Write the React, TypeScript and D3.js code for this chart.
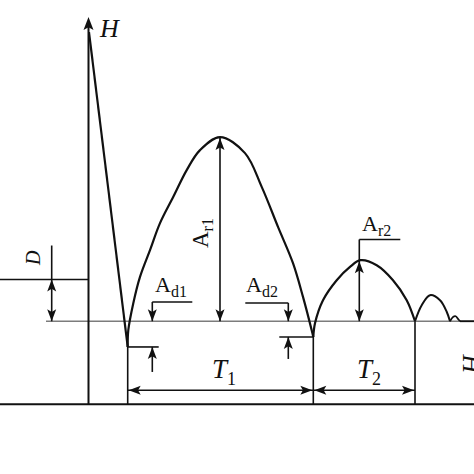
import * as d3 from 'd3';

// Wave trace. t = time units, h = height units
// (0 = the grey reference level).
type Pt = { t: number; h: number };

const spike: Pt[] = [
  { t: 0.05, h: 28.9 },
  { t: 3.92, h: -2.57 },
];

const arch1: Pt[] = [
  { t: 3.92, h: -2.57 },
  { t: 3.98, h: -0.9 },
  { t: 4.48, h: 1.8 },
  { t: 5.15, h: 4.43 },
  { t: 6.15, h: 7.1 },
  { t: 7.15, h: 9.8 },
  { t: 8.48, h: 12.43 },
  { t: 9.82, h: 15.1 },
  { t: 11.15, h: 17.1 },
  { t: 13.15, h: 18.4 },
  { t: 15.65, h: 16.8 },
  { t: 17.32, h: 13.43 },
  { t: 18.95, h: 9.43 },
  { t: 20.45, h: 5.8 },
  { t: 21.45, h: 2.43 },
  { t: 22.32, h: -0.9 },
  { t: 22.48, h: -1.57 },
];

const arch2: Pt[] = [
  { t: 22.48, h: -1.57 },
  { t: 22.65, h: -0.2 },
  { t: 23.45, h: 2.1 },
  { t: 24.82, h: 4.1 },
  { t: 26.15, h: 5.43 },
  { t: 27.2, h: 6.1 },
  { t: 28.82, h: 5.6 },
  { t: 30.45, h: 4.1 },
  { t: 31.82, h: 2.1 },
  { t: 32.65, h: 0 },
];

const arch3: Pt[] = [
  { t: 32.65, h: 0 },
  { t: 33.32, h: 1.6 },
  { t: 34.15, h: 2.6 },
  { t: 35.15, h: 2.1 },
  { t: 35.82, h: 0.95 },
  { t: 36.15, h: 0 },
];

const ripple: Pt[] = [
  { t: 36.15, h: 0 },
  { t: 36.48, h: 0.45 },
  { t: 36.72, h: 0.5 },
  { t: 36.98, h: 0.2 },
  { t: 37.15, h: 0 },
];

const tail: Pt[] = [
  { t: 37.15, h: 0 },
  { t: 38.6, h: 0 },
];

// levels and markers
const axisTop = 30.4;
const axisBottom = -8.3;
const dLevel = 4.17;
const dArrowT = -3.68;
const refStartT = -4.25;
const periodLevel = -6.9;
const trough1: Pt = { t: 3.92, h: -2.57 };
const trough2: Pt = { t: 22.48, h: -1.57 };
const peak1: Pt = { t: 13.15, h: 18.4 };
const peak2: Pt = { t: 27.08, h: 6.1 };
const period2End = 32.65;

const W = 474;
const H = 474;

const x = d3.scaleLinear().domain([-8.85, 38.55]).range([0, W]);
const y = d3.scaleLinear().domain([-8.3, 32.1]).range([404.3, 0]);

const SERIF = '"Liberation Serif", "DejaVu Serif", serif';

const line = d3
  .line<Pt>()
  .x((d) => x(d.t))
  .y((d) => y(d.h));
const smooth = d3
  .line<Pt>()
  .x((d) => x(d.t))
  .y((d) => y(d.h))
  .curve(d3.curveCatmullRom.alpha(0.5));

// filled arrowhead, tip at (tx, ty), pointing in direction (dx, dy)
function head(tx: number, ty: number, dx: number, dy: number, len = 12, hw = 4.5) {
  const bx = tx - dx * len;
  const by = ty - dy * len;
  const nx = -dy;
  const ny = dx;
  const ix = tx - dx * len * 0.78;
  const iy = ty - dy * len * 0.78;
  return `M${tx},${ty}L${bx + nx * hw},${by + ny * hw}L${ix},${iy}L${bx - nx * hw},${by - ny * hw}Z`;
}

export default function App() {
  const ax = x(0);
  const yRef = y(0);
  const yBase = y(axisBottom);
  const t1x = x(trough1.t);
  const t1y = y(trough1.h);
  const t2x = x(trough2.t);
  const t2y = y(trough2.h);
  const p2endX = x(period2End);
  const yPer = y(periodLevel);
  const dy = y(dLevel);
  const dx = x(dArrowT);
  const p1x = x(peak1.t);
  const p1y = y(peak1.h);
  const p2x = x(peak2.t);
  const p2y = y(peak2.h);

  const ad1x = t1x + 24.6;
  const ad2x = t2x - 25;

  const lw = 1.6;

  return (
    <svg
      width={W}
      height={H}
      style={{ position: 'absolute', left: 0, top: 0, background: '#fff' }}
    >
      {/* grey reference level */}
      <line x1={x(refStartT)} x2={W} y1={yRef} y2={yRef} stroke="#7c7c7c" strokeWidth={1.6} />

      {/* base line and vertical axis */}
      <line x1={0} x2={W} y1={yBase} y2={yBase} stroke="#111" strokeWidth={2} />
      <line x1={ax} x2={ax} y1={y(axisTop) + 10} y2={yBase} stroke="#111" strokeWidth={2} />
      <path d={head(ax, y(axisTop), 0, -1, 13, 5)} fill="#111" />
      <text x={100} y={37} fontFamily={SERIF} fontStyle="italic" fontSize={26} fill="#111">
        H
      </text>

      {/* D level */}
      <line x1={0} x2={ax} y1={dy} y2={dy} stroke="#111" strokeWidth={lw} />
      <line x1={dx} x2={dx} y1={dy - 34} y2={yRef} stroke="#111" strokeWidth={lw} />
      <path d={head(dx, dy, 0, -1)} fill="#111" />
      <path d={head(dx, yRef, 0, 1)} fill="#111" />
      <text
        transform={`translate(40,265) rotate(-90)`}
        fontFamily={SERIF}
        fontStyle="italic"
        fontSize={20}
        fill="#111"
      >
        D
      </text>

      {/* wave */}
      <g fill="none" stroke="#111" strokeWidth={2.2} strokeLinejoin="round">
        <path d={line(spike) ?? undefined} />
        <path d={smooth(arch1) ?? undefined} />
        <path d={smooth(arch2) ?? undefined} />
        <path d={smooth(arch3) ?? undefined} strokeWidth={2} />
        <path d={smooth(ripple) ?? undefined} strokeWidth={1.8} />
        <path d={line(tail) ?? undefined} strokeWidth={1.8} />
      </g>

      {/* period boundaries */}
      <g stroke="#111" strokeWidth={lw}>
        <line x1={t1x} x2={t1x} y1={t1y} y2={yBase} />
        <line x1={t2x} x2={t2x} y1={t2y} y2={yBase} />
        <line x1={p2endX} x2={p2endX} y1={yRef} y2={yBase} />
        <line x1={t1x} x2={t1x + 31} y1={t1y} y2={t1y} />
        <line x1={t2x - 34} x2={t2x} y1={t2y} y2={t2y} />
      </g>

      {/* T1, T2 */}
      <line x1={t1x} x2={t2x} y1={yPer} y2={yPer} stroke="#111" strokeWidth={lw} />
      <path d={head(t1x + 1, yPer, -1, 0)} fill="#111" />
      <path d={head(t2x - 1, yPer, 1, 0)} fill="#111" />
      <line x1={t2x} x2={p2endX} y1={yPer} y2={yPer} stroke="#111" strokeWidth={lw} />
      <path d={head(t2x + 1, yPer, -1, 0)} fill="#111" />
      <path d={head(p2endX - 1, yPer, 1, 0)} fill="#111" />
      <text x={212} y={378} fontFamily={SERIF} fill="#111">
        <tspan fontStyle="italic" fontSize={27}>T</tspan>
        <tspan fontSize={18} dy={7}>1</tspan>
      </text>
      <text x={357} y={378} fontFamily={SERIF} fill="#111">
        <tspan fontStyle="italic" fontSize={27}>T</tspan>
        <tspan fontSize={18} dy={7}>2</tspan>
      </text>

      {/* A_d1 */}
      <g stroke="#111" strokeWidth={lw}>
        <line x1={ad1x} x2={ad1x + 40} y1={yRef - 19.3} y2={yRef - 19.3} />
        <line x1={ad1x} x2={ad1x} y1={yRef - 19.3} y2={yRef} />
        <line x1={ad1x} x2={ad1x} y1={t1y} y2={t1y + 25} />
      </g>
      <path d={head(ad1x, yRef, 0, 1)} fill="#111" />
      <path d={head(ad1x, t1y, 0, -1)} fill="#111" />
      <text x={155} y={292} fontFamily={SERIF} fill="#111">
        <tspan fontSize={22}>A</tspan>
        <tspan fontSize={16} dy={5}>d1</tspan>
      </text>

      {/* A_d2 */}
      <g stroke="#111" strokeWidth={lw}>
        <line x1={ad2x - 43} x2={ad2x} y1={yRef - 18.3} y2={yRef - 18.3} />
        <line x1={ad2x} x2={ad2x} y1={yRef - 18.3} y2={yRef} />
        <line x1={ad2x} x2={ad2x} y1={t2y} y2={t2y + 22} />
      </g>
      <path d={head(ad2x, yRef, 0, 1)} fill="#111" />
      <path d={head(ad2x, t2y, 0, -1)} fill="#111" />
      <text x={246} y={292} fontFamily={SERIF} fill="#111">
        <tspan fontSize={22}>A</tspan>
        <tspan fontSize={16} dy={5}>d2</tspan>
      </text>

      {/* A_r1 */}
      <line x1={p1x} x2={p1x} y1={p1y} y2={yRef} stroke="#111" strokeWidth={lw} />
      <path d={head(p1x, p1y + 1, 0, -1)} fill="#111" />
      <path d={head(p1x, yRef, 0, 1)} fill="#111" />
      <text transform={`translate(208,248) rotate(-90)`} fontFamily={SERIF} fill="#111">
        <tspan fontSize={23}>A</tspan>
        <tspan fontSize={16} dy={5}>r1</tspan>
      </text>

      {/* A_r2 */}
      <g stroke="#111" strokeWidth={lw}>
        <line x1={p2x} x2={p2x} y1={p2y - 20.7} y2={yRef} />
        <line x1={p2x} x2={p2x + 41} y1={p2y - 20.7} y2={p2y - 20.7} />
      </g>
      <path d={head(p2x, p2y + 1, 0, -1)} fill="#111" />
      <path d={head(p2x, yRef, 0, 1)} fill="#111" />
      <text x={362} y={231} fontFamily={SERIF} fill="#111">
        <tspan fontSize={22}>A</tspan>
        <tspan fontSize={16} dy={5}>r2</tspan>
      </text>

      {/* cut-off label at the right edge */}
      <text
        transform={`translate(480,374) rotate(-90)`}
        fontFamily={SERIF}
        fontStyle="italic"
        fontSize={26}
        fill="#111"
      >
        H
      </text>
    </svg>
  );
}
